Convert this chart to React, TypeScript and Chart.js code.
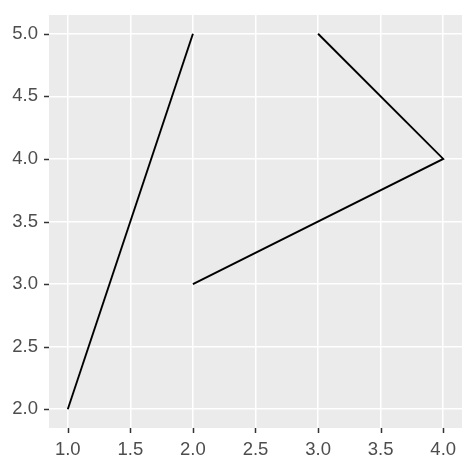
import React, { useEffect, useRef } from "react";
import { Chart, registerables } from "chart.js";

Chart.register(...registerables);

const lineAX = [1, 2];
const lineAY = [2, 5];
const pathX = [2, 4, 3];
const pathY = [3, 4, 5];
const xTickValues = [1, 1.5, 2, 2.5, 3, 3.5, 4];
const yTickValues = [2, 2.5, 3, 3.5, 4, 4.5, 5];

const toPts = (xs: number[], ys: number[]) => xs.map((x, i) => ({ x, y: ys[i] }));

const ggPlugin = {
  id: "ggPlugin",
  beforeDraw(chart: any) {
    const { ctx, chartArea } = chart;
    ctx.save();
    ctx.fillStyle = "#EBEBEB";
    ctx.fillRect(chartArea.left, chartArea.top, chartArea.right - chartArea.left, chartArea.bottom - chartArea.top);
    ctx.restore();
  },
  afterDraw(chart: any) {
    const { ctx, chartArea, scales } = chart;
    ctx.save();
    ctx.strokeStyle = "#333333";
    ctx.lineWidth = 1.5;
    const len = 5;
    xTickValues.forEach((v) => {
      const px = Math.round(scales.x.getPixelForValue(v)) + 0.5;
      ctx.beginPath();
      ctx.moveTo(px, chartArea.bottom);
      ctx.lineTo(px, chartArea.bottom + len);
      ctx.stroke();
    });
    yTickValues.forEach((v) => {
      const py = Math.round(scales.y.getPixelForValue(v)) + 0.5;
      ctx.beginPath();
      ctx.moveTo(chartArea.left - len, py);
      ctx.lineTo(chartArea.left, py);
      ctx.stroke();
    });
    ctx.restore();
  },
};

export default function App() {
  const ref = useRef<HTMLCanvasElement | null>(null);
  useEffect(() => {
    if (!ref.current) return;
    const tickFont = { family: "'Liberation Sans', Arial, sans-serif", size: 18.5 };
    const chart = new Chart(ref.current, {
      type: "scatter",
      data: {
        datasets: [
          {
            data: toPts(lineAX, lineAY),
            showLine: true,
            borderColor: "#000000",
            borderWidth: 1.9,
            pointRadius: 0,
            fill: false,
          },
          {
            data: toPts(pathX, pathY),
            showLine: true,
            borderColor: "#000000",
            borderWidth: 1.9,
            pointRadius: 0,
            fill: false,
          },
        ],
      },
      options: {
        animation: false,
        responsive: false,
        layout: { padding: { top: 15, right: 12, left: 0, bottom: 0 } },
        plugins: { legend: { display: false }, tooltip: { enabled: false } },
        scales: {
          x: {
            type: "linear",
            min: 0.85,
            max: 4.15,
            afterBuildTicks: (s: any) => {
              s.ticks = xTickValues.map((v) => ({ value: v }));
            },
            afterFit: (s: any) => {
              s.height = 46;
              s.paddingLeft = 0;
              s.paddingRight = 0;
            },
            grid: { color: "#FFFFFF", lineWidth: 1.5, drawTicks: false },
            border: { display: false },
            ticks: {
              font: tickFont,
              color: "#4D4D4D",
              padding: 11,
              maxRotation: 0,
              callback: (v: any) => Number(v).toFixed(1),
            },
          },
          y: {
            type: "linear",
            min: 1.85,
            max: 5.15,
            afterBuildTicks: (s: any) => {
              s.ticks = yTickValues.map((v) => ({ value: v }));
            },
            afterFit: (s: any) => {
              s.width = 49;
              s.paddingTop = 0;
              s.paddingBottom = 0;
            },
            grid: { color: "#FFFFFF", lineWidth: 1.5, drawTicks: false },
            border: { display: false },
            ticks: {
              font: tickFont,
              color: "#4D4D4D",
              padding: 11,
              callback: (v: any) => Number(v).toFixed(1),
            },
          },
        },
      },
      plugins: [ggPlugin],
    } as any);
    return () => chart.destroy();
  }, []);
  return (
    <div style={{ position: "absolute", left: 0, top: 0, width: 474, height: 474, background: "#FFFFFF" }}>
      <canvas ref={ref} width={474} height={474} style={{ width: 474, height: 474, display: "block" }} />
    </div>
  );
}
